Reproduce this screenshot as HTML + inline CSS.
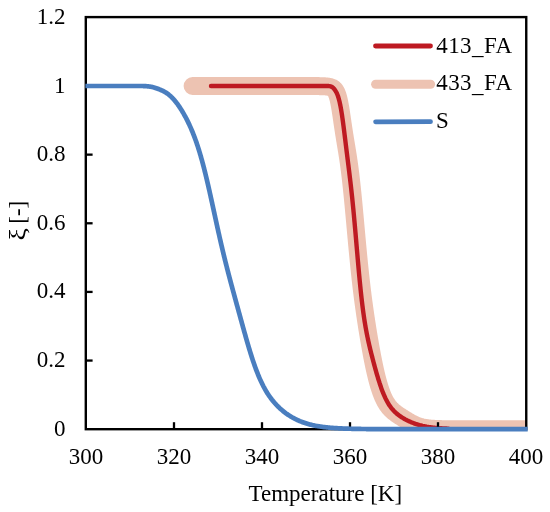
<!DOCTYPE html>
<html><head><meta charset="utf-8"><style>
html,body{margin:0;padding:0;background:#fff;}
svg{display:block;}
text{font-family:'Liberation Serif','Times New Roman',serif;font-size:23px;fill:#000;}
</style></head><body>
<svg width="550" height="512" viewBox="0 0 550 512">
<rect width="550" height="512" fill="#fff"/>
<defs><clipPath id="pa"><rect x="86" y="16.8" width="440.3" height="412.4"/></clipPath></defs>
<g clip-path="url(#pa)">
<path d="M192.60 86.00 L193.41 86.00 L194.22 86.00 L195.03 86.00 L195.84 86.00 L196.65 86.00 L197.46 86.00 L198.27 86.00 L199.08 86.00 L199.89 86.00 L200.70 86.00 L201.51 86.00 L202.32 86.00 L203.13 86.00 L203.94 86.00 L204.75 86.00 L205.56 86.00 L206.37 86.00 L207.18 86.00 L207.99 86.00 L208.80 86.00 L209.61 86.00 L210.42 86.00 L211.23 86.00 L212.04 86.00 L212.85 86.00 L213.65 86.00 L214.46 86.00 L215.27 86.00 L216.08 86.00 L216.89 86.00 L217.70 86.00 L218.51 86.00 L219.32 86.00 L220.13 86.00 L220.94 86.00 L221.75 86.00 L222.56 86.00 L223.37 86.00 L224.18 86.00 L224.99 86.00 L225.80 86.00 L226.61 86.00 L227.42 86.00 L228.23 86.00 L229.04 86.00 L229.85 86.00 L230.66 86.00 L231.47 86.00 L232.28 86.00 L233.09 86.00 L233.90 86.00 L234.71 86.00 L235.52 86.00 L236.33 86.00 L237.14 86.00 L237.95 86.00 L238.76 86.00 L239.57 86.00 L240.38 86.00 L241.19 86.00 L242.00 86.00 L242.81 86.00 L243.62 86.00 L244.43 86.00 L245.24 86.00 L246.05 86.00 L246.86 86.00 L247.67 86.00 L248.48 86.00 L249.29 86.00 L250.10 86.00 L250.91 86.00 L251.72 86.00 L252.53 86.00 L253.34 86.00 L254.14 86.00 L254.95 86.00 L255.76 86.00 L256.57 86.00 L257.38 86.00 L258.19 86.00 L259.00 86.00 L259.81 86.00 L260.62 86.00 L261.43 86.00 L262.24 86.00 L263.05 86.00 L263.86 86.00 L264.67 86.00 L265.48 86.00 L266.29 86.00 L267.10 86.00 L267.91 86.00 L268.72 86.00 L269.53 86.00 L270.34 86.00 L271.15 86.00 L271.96 86.00 L272.77 86.00 L273.58 86.00 L274.39 86.00 L275.20 86.00 L276.01 86.00 L276.82 86.00 L277.63 86.00 L278.44 86.00 L279.25 86.00 L280.06 86.00 L280.87 86.00 L281.68 86.00 L282.49 86.00 L283.30 86.00 L284.11 86.00 L284.92 86.00 L285.73 86.00 L286.54 86.00 L287.35 86.00 L288.16 86.00 L288.97 86.00 L289.78 86.00 L290.59 86.00 L291.40 86.00 L292.21 86.00 L293.02 86.00 L293.83 86.00 L294.63 86.00 L295.44 86.00 L296.25 86.00 L297.06 86.00 L297.87 86.01 L298.68 86.01 L299.49 86.01 L300.30 86.01 L301.11 86.01 L301.92 86.01 L302.73 86.01 L303.54 86.01 L304.35 86.01 L305.16 86.01 L305.97 86.02 L306.78 86.02 L307.59 86.02 L308.40 86.02 L309.21 86.03 L310.02 86.03 L310.83 86.03 L311.64 86.04 L312.45 86.04 L313.26 86.05 L314.07 86.06 L314.88 86.06 L315.69 86.07 L316.50 86.08 L317.31 86.10 L318.12 86.11 L318.93 86.12 L319.74 86.14 L320.55 86.16 L321.36 86.19 L322.17 86.21 L322.98 86.25 L323.79 86.29 L324.60 86.33 L325.41 86.39 L326.22 86.45 L327.03 86.54 L327.84 86.63 L328.63 86.75 L329.42 86.90 L330.22 87.09 L330.99 87.32 L331.75 87.61 L332.48 87.96 L333.17 88.39 L333.81 88.89 L334.40 89.46 L334.92 90.07 L335.39 90.73 L335.82 91.42 L336.20 92.15 L336.56 92.91 L336.88 93.68 L337.17 94.44 L337.44 95.22 L337.69 96.01 L337.93 96.81 L338.14 97.61 L338.35 98.38 L338.55 99.21 L338.74 100.00 L338.92 100.83 L339.09 101.62 L339.26 102.44 L339.43 103.29 L339.58 104.08 L339.73 104.90 L339.88 105.74 L340.03 106.60 L340.19 107.48 L340.32 108.29 L340.46 109.11 L340.59 109.94 L340.73 110.79 L340.86 111.65 L341.00 112.52 L341.13 113.40 L341.27 114.29 L341.40 115.19 L341.52 115.99 L341.64 116.78 L341.76 117.59 L341.87 118.39 L341.99 119.20 L342.11 120.01 L342.23 120.81 L342.35 121.62 L342.46 122.43 L342.58 123.24 L342.70 124.04 L342.82 124.85 L342.94 125.65 L343.05 126.44 L343.17 127.24 L343.31 128.14 L343.44 129.03 L343.58 129.92 L343.71 130.80 L343.85 131.68 L343.98 132.55 L344.12 133.42 L344.25 134.27 L344.39 135.12 L344.52 135.97 L344.66 136.81 L344.79 137.64 L344.93 138.47 L345.06 139.30 L345.20 140.12 L345.33 140.94 L345.47 141.75 L345.60 142.57 L345.74 143.38 L345.87 144.19 L346.01 145.00 L346.14 145.81 L346.28 146.62 L346.41 147.43 L346.55 148.25 L346.68 149.07 L346.82 149.89 L346.95 150.72 L347.09 151.56 L347.22 152.40 L347.36 153.24 L347.49 154.09 L347.63 154.95 L347.76 155.82 L347.90 156.70 L348.03 157.59 L348.17 158.49 L348.28 159.28 L348.40 160.08 L348.52 160.89 L348.64 161.71 L348.76 162.54 L348.87 163.38 L348.99 164.23 L349.11 165.09 L349.23 165.95 L349.35 166.83 L349.47 167.72 L349.58 168.62 L349.70 169.53 L349.82 170.45 L349.92 171.25 L350.02 172.06 L350.12 172.88 L350.22 173.70 L350.33 174.53 L350.43 175.37 L350.53 176.22 L350.63 177.08 L350.73 177.94 L350.83 178.82 L350.93 179.70 L351.03 180.59 L351.14 181.49 L351.24 182.40 L351.34 183.31 L351.44 184.24 L351.54 185.17 L351.64 186.11 L351.74 187.06 L351.83 187.86 L351.91 188.66 L352.00 189.46 L352.08 190.28 L352.16 191.09 L352.25 191.92 L352.33 192.74 L352.42 193.58 L352.50 194.41 L352.59 195.26 L352.67 196.10 L352.75 196.95 L352.84 197.81 L352.92 198.67 L353.01 199.53 L353.09 200.40 L353.18 201.27 L353.26 202.15 L353.35 203.03 L353.43 203.92 L353.51 204.80 L353.60 205.69 L353.68 206.59 L353.77 207.49 L353.85 208.39 L353.94 209.29 L354.02 210.20 L354.10 211.10 L354.19 212.02 L354.27 212.93 L354.36 213.85 L354.44 214.76 L354.53 215.68 L354.61 216.61 L354.70 217.53 L354.78 218.45 L354.86 219.38 L354.95 220.31 L355.03 221.23 L355.12 222.16 L355.20 223.09 L355.29 224.02 L355.37 224.96 L355.45 225.89 L355.54 226.82 L355.62 227.75 L355.71 228.68 L355.79 229.61 L355.88 230.54 L355.96 231.47 L356.04 232.40 L356.13 233.33 L356.21 234.26 L356.30 235.19 L356.38 236.11 L356.47 237.03 L356.55 237.96 L356.64 238.88 L356.72 239.80 L356.80 240.71 L356.89 241.63 L356.97 242.54 L357.06 243.45 L357.14 244.36 L357.23 245.27 L357.31 246.17 L357.39 247.08 L357.48 247.97 L357.56 248.87 L357.65 249.76 L357.73 250.65 L357.82 251.54 L357.90 252.42 L357.98 253.30 L358.07 254.18 L358.15 255.06 L358.24 255.93 L358.32 256.79 L358.41 257.66 L358.49 258.52 L358.58 259.37 L358.66 260.23 L358.74 261.07 L358.83 261.92 L358.91 262.76 L359.00 263.60 L359.08 264.43 L359.17 265.26 L359.25 266.08 L359.33 266.90 L359.42 267.72 L359.50 268.53 L359.59 269.34 L359.67 270.15 L359.76 270.95 L359.84 271.74 L359.94 272.69 L360.04 273.64 L360.14 274.58 L360.25 275.51 L360.35 276.43 L360.45 277.35 L360.55 278.27 L360.65 279.18 L360.75 280.08 L360.85 280.97 L360.95 281.86 L361.06 282.75 L361.16 283.63 L361.26 284.50 L361.36 285.36 L361.46 286.23 L361.56 287.08 L361.66 287.93 L361.76 288.77 L361.87 289.61 L361.97 290.45 L362.07 291.27 L362.17 292.10 L362.27 292.91 L362.37 293.72 L362.47 294.53 L362.57 295.33 L362.67 296.13 L362.79 297.05 L362.91 297.97 L363.03 298.88 L363.15 299.78 L363.27 300.68 L363.38 301.57 L363.50 302.45 L363.62 303.33 L363.74 304.21 L363.86 305.07 L363.97 305.94 L364.09 306.79 L364.21 307.64 L364.33 308.49 L364.45 309.33 L364.56 310.16 L364.68 310.99 L364.80 311.82 L364.92 312.64 L365.04 313.45 L365.15 314.27 L365.27 315.07 L365.39 315.87 L365.51 316.67 L365.63 317.47 L365.76 318.37 L365.90 319.26 L366.03 320.16 L366.17 321.04 L366.30 321.92 L366.44 322.80 L366.57 323.67 L366.71 324.54 L366.84 325.40 L366.98 326.26 L367.11 327.11 L367.25 327.96 L367.38 328.81 L367.52 329.65 L367.65 330.48 L367.79 331.32 L367.92 332.15 L368.06 332.97 L368.19 333.79 L368.33 334.61 L368.46 335.42 L368.60 336.23 L368.73 337.03 L368.87 337.83 L369.00 338.63 L369.14 339.42 L369.27 340.21 L369.42 341.09 L369.58 341.97 L369.73 342.85 L369.88 343.71 L370.03 344.58 L370.18 345.44 L370.33 346.29 L370.49 347.14 L370.64 347.99 L370.79 348.82 L370.94 349.66 L371.09 350.49 L371.25 351.31 L371.40 352.13 L371.55 352.94 L371.70 353.75 L371.85 354.56 L372.00 355.35 L372.16 356.15 L372.31 356.93 L372.48 357.80 L372.65 358.66 L372.81 359.52 L372.98 360.36 L373.15 361.20 L373.32 362.04 L373.49 362.86 L373.66 363.68 L373.83 364.49 L374.00 365.30 L374.16 366.09 L374.33 366.88 L374.52 367.74 L374.70 368.59 L374.89 369.43 L375.08 370.26 L375.26 371.08 L375.45 371.90 L375.63 372.70 L375.82 373.49 L376.00 374.27 L376.21 375.12 L376.41 375.95 L376.61 376.77 L376.81 377.57 L377.02 378.37 L377.22 379.15 L377.44 379.99 L377.66 380.81 L377.88 381.62 L378.09 382.41 L378.31 383.19 L378.55 384.02 L378.79 384.83 L379.02 385.62 L379.26 386.40 L379.51 387.21 L379.77 388.01 L380.02 388.79 L380.27 389.56 L380.54 390.35 L380.81 391.12 L381.08 391.88 L381.37 392.66 L381.65 393.42 L381.96 394.21 L382.26 394.97 L382.58 395.74 L382.90 396.50 L383.24 397.27 L383.58 398.01 L383.93 398.76 L384.29 399.49 L384.66 400.22 L385.05 400.95 L385.43 401.66 L385.84 402.37 L386.26 403.07 L386.70 403.78 L387.14 404.45 L387.59 405.11 L388.07 405.77 L388.55 406.42 L389.06 407.06 L389.58 407.69 L390.12 408.30 L390.68 408.91 L391.25 409.50 L391.83 410.06 L392.42 410.61 L393.03 411.15 L393.65 411.69 L394.27 412.20 L394.92 412.70 L395.56 413.19 L396.21 413.67 L396.87 414.14 L397.53 414.60 L398.20 415.06 L398.88 415.51 L399.55 415.95 L400.23 416.39 L400.90 416.83 L401.58 417.26 L402.25 417.69 L402.95 418.13 L403.64 418.57 L404.33 419.01 L405.02 419.44 L405.71 419.87 L406.40 420.29 L407.10 420.72 L407.79 421.13 L408.48 421.54 L409.17 421.95 L409.88 422.35 L410.59 422.75 L411.30 423.13 L412.01 423.51 L412.73 423.88 L413.46 424.23 L414.18 424.57 L414.92 424.91 L415.67 425.22 L416.41 425.52 L417.17 425.81 L417.93 426.09 L418.69 426.35 L419.46 426.59 L420.24 426.82 L421.01 427.03 L421.79 427.23 L422.58 427.41 L423.38 427.58 L424.17 427.74 L424.96 427.88 L425.76 428.02 L426.55 428.14 L427.34 428.25 L428.15 428.35 L428.96 428.44 L429.77 428.52 L430.58 428.60 L431.39 428.67 L432.20 428.73 L433.01 428.79 L433.82 428.84 L434.63 428.88 L435.44 428.93 L436.25 428.96 L437.06 429.00 L437.87 429.03 L438.68 429.05 L439.49 429.08 L440.30 429.10 L441.11 429.12 L441.92 429.14 L442.73 429.15 L443.54 429.17 L444.35 429.18 L445.16 429.19 L445.97 429.20 L446.78 429.21 L447.59 429.22 L448.40 429.23 L449.21 429.23 L450.02 429.24 L450.83 429.25 L451.63 429.25 L452.44 429.26 L453.25 429.26 L454.06 429.26 L454.87 429.27 L455.68 429.27 L456.49 429.27 L457.30 429.27 L458.11 429.28 L458.92 429.28 L459.73 429.28 L460.54 429.28 L461.35 429.28 L462.16 429.28 L462.97 429.28 L463.78 429.29 L464.59 429.29 L465.40 429.29 L466.21 429.29 L467.02 429.29 L467.83 429.29 L468.64 429.29 L469.45 429.29 L470.26 429.29 L471.07 429.29 L471.88 429.29 L472.69 429.29 L473.50 429.29 L474.31 429.29 L475.12 429.29 L475.93 429.29 L476.74 429.29 L477.55 429.29 L478.36 429.29 L479.17 429.29 L479.98 429.29 L480.79 429.29 L481.60 429.29 L482.41 429.29 L483.22 429.29 L484.03 429.29 L484.84 429.29 L485.65 429.29 L486.46 429.29 L487.27 429.29 L488.08 429.29 L488.89 429.29 L489.70 429.29 L490.51 429.29 L491.32 429.29 L492.12 429.29 L492.93 429.29 L493.74 429.29 L494.55 429.29 L495.36 429.29 L496.17 429.29 L496.98 429.29 L497.79 429.29 L498.60 429.29 L499.41 429.29 L500.22 429.29 L501.03 429.29 L501.84 429.29 L502.65 429.29 L503.46 429.29 L504.27 429.29 L505.08 429.29 L505.89 429.29 L506.70 429.29 L507.51 429.29 L508.32 429.29 L509.13 429.29 L509.94 429.29 L510.75 429.29 L511.56 429.29 L512.37 429.29 L513.18 429.29 L513.99 429.29 L514.80 429.29 L515.61 429.29 L516.42 429.29 L517.23 429.29 L518.04 429.29 L518.85 429.29 L519.66 429.29 L520.47 429.29 L521.28 429.29 L522.09 429.29 L522.90 429.29 L523.71 429.29 L524.52 429.29 L525.33 429.29 L526.14 429.29 L526.95 429.29 L527.76 429.29 L528.57 429.29 L529.38 429.29 L530.00 429.29" fill="none" stroke="#EDC3B2" stroke-width="18" stroke-linecap="round" stroke-linejoin="round"/>
<path d="M211.00 86.00 L211.81 86.00 L212.61 86.00 L213.42 86.00 L214.23 86.00 L215.04 86.00 L215.84 86.00 L216.65 86.00 L217.46 86.00 L218.26 86.00 L219.07 86.00 L219.88 86.00 L220.69 86.00 L221.49 86.00 L222.30 86.00 L223.11 86.00 L223.92 86.00 L224.72 86.00 L225.53 86.00 L226.34 86.00 L227.14 86.00 L227.95 86.00 L228.76 86.00 L229.57 86.00 L230.37 86.00 L231.18 86.00 L231.99 86.00 L232.79 86.00 L233.60 86.00 L234.41 86.00 L235.22 86.00 L236.02 86.00 L236.83 86.00 L237.64 86.00 L238.44 86.00 L239.25 86.00 L240.06 86.00 L240.87 86.00 L241.67 86.00 L242.48 86.00 L243.29 86.00 L244.10 86.00 L244.90 86.00 L245.71 86.00 L246.52 86.00 L247.32 86.00 L248.13 86.00 L248.94 86.00 L249.75 86.00 L250.55 86.00 L251.36 86.00 L252.17 86.00 L252.97 86.00 L253.78 86.00 L254.59 86.00 L255.40 86.00 L256.20 86.00 L257.01 86.00 L257.82 86.00 L258.62 86.00 L259.43 86.00 L260.24 86.00 L261.05 86.00 L261.85 86.00 L262.66 86.00 L263.47 86.00 L264.28 86.00 L265.08 86.00 L265.89 86.00 L266.70 86.00 L267.50 86.00 L268.31 86.00 L269.12 86.00 L269.93 86.00 L270.73 86.00 L271.54 86.00 L272.35 86.00 L273.15 86.00 L273.96 86.00 L274.77 86.00 L275.58 86.00 L276.38 86.00 L277.19 86.00 L278.00 86.00 L278.80 86.00 L279.61 86.00 L280.42 86.00 L281.23 86.00 L282.03 86.00 L282.84 86.00 L283.65 86.00 L284.46 86.00 L285.26 86.00 L286.07 86.00 L286.88 86.00 L287.68 86.00 L288.49 86.00 L289.30 86.00 L290.11 86.00 L290.91 86.00 L291.72 86.00 L292.53 86.00 L293.33 86.00 L294.14 86.00 L294.95 86.00 L295.76 86.00 L296.56 86.00 L297.37 86.00 L298.18 86.00 L298.98 86.00 L299.79 86.00 L300.60 86.00 L301.41 86.00 L302.21 86.00 L303.02 86.00 L303.83 86.00 L304.64 86.00 L305.44 86.00 L306.25 86.00 L307.06 86.00 L307.86 86.00 L308.67 86.00 L309.48 86.00 L310.29 86.00 L311.09 86.00 L311.90 86.00 L312.71 86.00 L313.51 86.00 L314.32 86.00 L315.13 86.00 L315.94 86.00 L316.74 86.00 L317.55 86.00 L318.36 86.00 L319.16 86.00 L319.97 86.00 L320.78 86.00 L321.59 86.00 L322.39 86.00 L323.20 86.00 L324.01 86.00 L324.82 86.00 L325.62 86.00 L326.43 86.00 L327.24 86.00 L328.04 86.02 L328.85 86.07 L329.65 86.17 L330.43 86.34 L331.19 86.60 L331.91 86.94 L332.59 87.38 L333.21 87.89 L333.78 88.47 L334.30 89.09 L334.77 89.74 L335.23 90.41 L335.65 91.09 L336.07 91.78 L336.46 92.50 L336.82 93.23 L337.15 93.97 L337.46 94.73 L337.74 95.49 L338.02 96.27 L338.26 97.03 L338.50 97.80 L338.73 98.58 L338.94 99.36 L339.15 100.18 L339.36 100.99 L339.55 101.79 L339.74 102.62 L339.91 103.43 L340.08 104.22 L340.25 105.03 L340.41 105.87 L340.57 106.67 L340.72 107.50 L340.88 108.35 L341.02 109.16 L341.16 109.98 L341.30 110.83 L341.43 111.62 L341.56 112.43 L341.70 113.25 L341.83 114.09 L341.96 114.94 L342.09 115.81 L342.21 116.61 L342.32 117.43 L342.44 118.25 L342.56 119.09 L342.68 119.93 L342.80 120.79 L342.92 121.66 L343.04 122.53 L343.14 123.33 L343.25 124.13 L343.36 124.94 L343.46 125.75 L343.57 126.57 L343.68 127.40 L343.78 128.23 L343.89 129.07 L344.00 129.91 L344.10 130.75 L344.21 131.60 L344.32 132.45 L344.43 133.31 L344.53 134.17 L344.64 135.03 L344.75 135.89 L344.85 136.75 L344.96 137.62 L345.07 138.49 L345.17 139.35 L345.28 140.22 L345.39 141.09 L345.49 141.96 L345.60 142.83 L345.71 143.70 L345.81 144.57 L345.92 145.44 L346.03 146.31 L346.13 147.18 L346.24 148.05 L346.35 148.91 L346.46 149.78 L346.56 150.64 L346.67 151.51 L346.78 152.37 L346.88 153.23 L346.99 154.09 L347.10 154.95 L347.20 155.81 L347.31 156.67 L347.42 157.53 L347.52 158.38 L347.63 159.24 L347.74 160.09 L347.84 160.95 L347.95 161.80 L348.06 162.66 L348.16 163.52 L348.27 164.37 L348.38 165.23 L348.49 166.08 L348.59 166.94 L348.70 167.80 L348.81 168.66 L348.91 169.53 L349.02 170.39 L349.13 171.26 L349.23 172.12 L349.34 173.00 L349.45 173.87 L349.55 174.75 L349.66 175.63 L349.77 176.51 L349.87 177.40 L349.98 178.29 L350.08 179.09 L350.17 179.88 L350.27 180.69 L350.36 181.49 L350.46 182.31 L350.55 183.12 L350.65 183.94 L350.74 184.76 L350.84 185.59 L350.93 186.43 L351.03 187.26 L351.12 188.11 L351.22 188.95 L351.31 189.81 L351.41 190.66 L351.50 191.53 L351.60 192.40 L351.69 193.27 L351.79 194.15 L351.88 195.04 L351.98 195.93 L352.07 196.83 L352.17 197.73 L352.25 198.53 L352.33 199.33 L352.41 200.13 L352.50 200.94 L352.58 201.76 L352.66 202.58 L352.75 203.40 L352.83 204.23 L352.91 205.06 L353.00 205.90 L353.08 206.74 L353.16 207.59 L353.25 208.44 L353.33 209.29 L353.41 210.16 L353.49 211.02 L353.58 211.89 L353.66 212.76 L353.74 213.64 L353.83 214.52 L353.91 215.41 L353.99 216.30 L354.08 217.20 L354.16 218.10 L354.24 219.00 L354.33 219.91 L354.41 220.82 L354.49 221.73 L354.57 222.65 L354.66 223.57 L354.74 224.50 L354.82 225.42 L354.90 226.22 L354.97 227.02 L355.04 227.82 L355.11 228.63 L355.18 229.43 L355.25 230.24 L355.32 231.05 L355.39 231.86 L355.47 232.68 L355.54 233.49 L355.61 234.31 L355.68 235.13 L355.75 235.95 L355.82 236.77 L355.89 237.59 L355.96 238.41 L356.03 239.24 L356.11 240.06 L356.18 240.88 L356.25 241.71 L356.32 242.54 L356.39 243.36 L356.46 244.19 L356.53 245.02 L356.60 245.84 L356.68 246.67 L356.75 247.50 L356.82 248.33 L356.89 249.15 L356.96 249.98 L357.03 250.80 L357.10 251.63 L357.17 252.45 L357.25 253.28 L357.32 254.10 L357.39 254.92 L357.46 255.74 L357.53 256.56 L357.60 257.38 L357.67 258.20 L357.74 259.01 L357.82 259.82 L357.89 260.64 L357.96 261.44 L358.03 262.25 L358.10 263.06 L358.17 263.86 L358.24 264.66 L358.31 265.46 L358.39 266.26 L358.47 267.19 L358.55 268.11 L358.63 269.03 L358.72 269.95 L358.80 270.86 L358.88 271.77 L358.97 272.67 L359.05 273.57 L359.13 274.46 L359.22 275.35 L359.30 276.24 L359.38 277.12 L359.47 278.00 L359.55 278.87 L359.63 279.74 L359.71 280.60 L359.80 281.46 L359.88 282.31 L359.96 283.15 L360.05 284.00 L360.13 284.83 L360.21 285.66 L360.30 286.49 L360.38 287.30 L360.46 288.12 L360.55 288.92 L360.63 289.73 L360.72 290.63 L360.82 291.54 L360.91 292.43 L361.01 293.31 L361.10 294.19 L361.20 295.06 L361.29 295.92 L361.39 296.78 L361.48 297.63 L361.58 298.46 L361.67 299.29 L361.77 300.12 L361.86 300.93 L361.96 301.74 L362.05 302.54 L362.16 303.42 L362.27 304.30 L362.37 305.17 L362.48 306.03 L362.59 306.88 L362.69 307.72 L362.80 308.55 L362.91 309.37 L363.01 310.18 L363.12 310.98 L363.24 311.86 L363.36 312.73 L363.48 313.59 L363.60 314.43 L363.72 315.27 L363.83 316.09 L363.95 316.90 L364.07 317.70 L364.19 318.50 L364.32 319.36 L364.45 320.20 L364.58 321.04 L364.71 321.86 L364.84 322.67 L364.97 323.47 L365.10 324.26 L365.25 325.11 L365.39 325.95 L365.53 326.78 L365.67 327.59 L365.82 328.39 L365.96 329.18 L366.11 330.03 L366.27 330.86 L366.42 331.68 L366.58 332.49 L366.73 333.29 L366.88 334.08 L367.05 334.92 L367.22 335.75 L367.38 336.56 L367.55 337.37 L367.72 338.16 L367.88 338.95 L368.06 339.78 L368.24 340.60 L368.42 341.41 L368.59 342.21 L368.77 343.01 L368.95 343.79 L369.14 344.62 L369.33 345.45 L369.52 346.26 L369.71 347.07 L369.90 347.87 L370.09 348.66 L370.28 349.44 L370.47 350.23 L370.67 351.05 L370.87 351.87 L371.07 352.68 L371.28 353.48 L371.48 354.28 L371.68 355.08 L371.88 355.87 L372.08 356.66 L372.29 357.44 L372.49 358.22 L372.69 359.00 L372.90 359.81 L373.12 360.63 L373.33 361.44 L373.54 362.24 L373.76 363.04 L373.97 363.84 L374.19 364.63 L374.40 365.42 L374.61 366.20 L374.83 366.98 L375.04 367.76 L375.25 368.53 L375.48 369.34 L375.70 370.15 L375.93 370.95 L376.16 371.75 L376.38 372.54 L376.61 373.32 L376.83 374.10 L377.06 374.87 L377.28 375.64 L377.52 376.44 L377.76 377.24 L378.00 378.03 L378.23 378.81 L378.47 379.58 L378.71 380.34 L378.96 381.14 L379.21 381.92 L379.46 382.70 L379.70 383.47 L379.97 384.26 L380.23 385.04 L380.49 385.81 L380.75 386.57 L381.02 387.36 L381.30 388.13 L381.57 388.88 L381.85 389.66 L382.14 390.42 L382.42 391.17 L382.72 391.94 L383.02 392.69 L383.33 393.45 L383.63 394.20 L383.95 394.96 L384.28 395.70 L384.61 396.45 L384.94 397.18 L385.28 397.92 L385.64 398.66 L386.00 399.38 L386.36 400.10 L386.74 400.82 L387.14 401.55 L387.53 402.25 L387.93 402.94 L388.35 403.64 L388.77 404.32 L389.21 405.01 L389.66 405.68 L390.13 406.35 L390.60 407.00 L391.09 407.65 L391.59 408.28 L392.10 408.91 L392.62 409.52 L393.15 410.12 L393.70 410.71 L394.26 411.29 L394.83 411.85 L395.41 412.41 L396.00 412.95 L396.61 413.48 L397.23 414.00 L397.86 414.51 L398.50 415.01 L399.14 415.49 L399.79 415.96 L400.45 416.42 L401.12 416.87 L401.80 417.31 L402.48 417.74 L403.17 418.16 L403.87 418.58 L404.57 418.98 L405.27 419.37 L405.99 419.75 L406.70 420.12 L407.42 420.49 L408.15 420.84 L408.87 421.19 L409.61 421.53 L410.34 421.85 L411.08 422.17 L411.83 422.48 L412.57 422.78 L413.32 423.07 L414.08 423.36 L414.84 423.63 L415.60 423.90 L416.36 424.15 L417.13 424.40 L417.90 424.64 L418.68 424.87 L419.45 425.08 L420.23 425.30 L421.01 425.50 L421.80 425.69 L422.58 425.88 L423.36 426.05 L424.15 426.22 L424.94 426.38 L425.74 426.53 L426.53 426.68 L427.33 426.81 L428.13 426.94 L428.92 427.07 L429.72 427.18 L430.51 427.29 L431.31 427.40 L432.10 427.50 L432.90 427.59 L433.69 427.68 L434.50 427.76 L435.31 427.84 L436.11 427.91 L436.92 427.98 L437.73 428.05 L438.54 428.11 L439.34 428.17 L440.15 428.22 L440.96 428.27 L441.76 428.32 L442.57 428.36 L443.38 428.41 L444.19 428.45 L444.99 428.48 L445.80 428.52 L446.61 428.55 L447.41 428.58 L448.22 428.61 L448.40 428.61" fill="none" stroke="#BE1A22" stroke-width="4.4" stroke-linecap="round" stroke-linejoin="round"/>
</g>
<g stroke="#000" stroke-width="2.3" fill="none">
<rect x="85.8" y="17.1" width="440.45" height="412.1" stroke-width="2.4"/>
<line x1="86" y1="360.56" x2="92.6" y2="360.56"/><line x1="86" y1="291.92" x2="92.6" y2="291.92"/><line x1="86" y1="223.28" x2="92.6" y2="223.28"/><line x1="86" y1="154.64" x2="92.6" y2="154.64"/><line x1="86" y1="86.00" x2="92.6" y2="86.00"/>
<line x1="174.00" y1="429.2" x2="174.00" y2="422.2"/><line x1="262.00" y1="429.2" x2="262.00" y2="422.2"/><line x1="350.00" y1="429.2" x2="350.00" y2="422.2"/><line x1="438.00" y1="429.2" x2="438.00" y2="422.2"/>
</g>
<path d="M85.40 86.00 L86.22 86.00 L87.04 86.00 L87.85 86.00 L88.67 86.00 L89.49 86.00 L90.31 86.00 L91.13 86.00 L91.95 86.00 L92.76 86.00 L93.58 86.00 L94.40 86.00 L95.22 86.00 L96.04 86.00 L96.86 86.00 L97.67 86.00 L98.49 86.00 L99.31 86.00 L100.13 86.00 L100.95 86.00 L101.77 86.00 L102.58 86.00 L103.40 86.00 L104.22 86.00 L105.04 86.00 L105.86 86.00 L106.68 86.00 L107.49 86.00 L108.31 86.00 L109.13 86.00 L109.95 86.00 L110.77 86.00 L111.59 86.00 L112.40 86.00 L113.22 86.00 L114.04 86.00 L114.86 86.00 L115.68 86.00 L116.50 86.00 L117.31 86.00 L118.13 86.00 L118.95 86.00 L119.77 86.00 L120.59 86.00 L121.41 86.00 L122.22 86.00 L123.04 86.00 L123.86 86.00 L124.68 86.00 L125.50 86.00 L126.31 86.00 L127.13 86.00 L127.95 86.00 L128.77 86.00 L129.59 86.00 L130.41 86.00 L131.22 86.00 L132.04 86.00 L132.86 86.00 L133.68 86.00 L134.50 86.00 L135.32 86.00 L136.13 86.00 L136.95 86.00 L137.77 86.00 L138.59 86.00 L139.41 86.00 L140.23 86.00 L141.04 86.00 L141.86 86.01 L142.68 86.02 L143.50 86.05 L144.32 86.07 L145.14 86.11 L145.95 86.16 L146.77 86.22 L147.59 86.30 L148.39 86.38 L149.18 86.48 L149.98 86.60 L150.78 86.73 L151.57 86.88 L152.37 87.05 L153.16 87.24 L153.94 87.45 L154.71 87.67 L155.49 87.92 L156.26 88.18 L157.03 88.46 L157.79 88.75 L158.54 89.05 L159.29 89.36 L160.04 89.67 L160.79 89.97 L161.55 90.29 L162.28 90.62 L163.01 90.97 L163.74 91.34 L164.44 91.73 L165.15 92.14 L165.84 92.56 L166.52 93.01 L167.19 93.47 L167.85 93.95 L168.49 94.44 L169.13 94.96 L169.75 95.48 L170.37 96.03 L170.97 96.58 L171.56 97.15 L172.14 97.72 L172.71 98.32 L173.27 98.91 L173.82 99.52 L174.35 100.13 L174.88 100.75 L175.41 101.40 L175.92 102.03 L176.43 102.68 L176.92 103.32 L177.40 103.98 L177.89 104.64 L178.35 105.30 L178.82 105.96 L179.28 106.65 L179.75 107.34 L180.19 108.01 L180.63 108.70 L181.07 109.40 L181.52 110.10 L181.94 110.79 L182.36 111.49 L182.78 112.19 L183.20 112.91 L183.62 113.64 L184.02 114.34 L184.41 115.05 L184.81 115.77 L185.21 116.50 L185.61 117.25 L185.98 117.96 L186.36 118.68 L186.74 119.41 L187.11 120.14 L187.49 120.89 L187.86 121.65 L188.22 122.38 L188.57 123.11 L188.93 123.86 L189.28 124.61 L189.63 125.38 L189.99 126.15 L190.32 126.89 L190.65 127.64 L190.98 128.39 L191.31 129.16 L191.65 129.94 L191.98 130.73 L192.29 131.47 L192.60 132.23 L192.91 132.99 L193.22 133.77 L193.53 134.55 L193.84 135.35 L194.12 136.09 L194.41 136.85 L194.70 137.62 L194.99 138.40 L195.27 139.18 L195.56 139.98 L195.85 140.78 L196.14 141.60 L196.40 142.36 L196.67 143.14 L196.93 143.92 L197.20 144.71 L197.46 145.50 L197.73 146.31 L197.99 147.13 L198.26 147.96 L198.50 148.72 L198.75 149.50 L198.99 150.28 L199.23 151.07 L199.47 151.86 L199.72 152.67 L199.96 153.48 L200.20 154.31 L200.45 155.14 L200.69 155.97 L200.91 156.74 L201.13 157.52 L201.35 158.30 L201.58 159.09 L201.80 159.88 L202.02 160.69 L202.24 161.50 L202.46 162.31 L202.68 163.13 L202.90 163.96 L203.12 164.79 L203.35 165.64 L203.57 166.48 L203.79 167.34 L204.01 168.20 L204.21 168.97 L204.41 169.76 L204.61 170.55 L204.80 171.34 L205.00 172.14 L205.20 172.94 L205.40 173.75 L205.60 174.56 L205.80 175.38 L206.00 176.20 L206.20 177.03 L206.40 177.86 L206.60 178.69 L206.80 179.53 L206.99 180.37 L207.19 181.21 L207.39 182.06 L207.59 182.92 L207.79 183.78 L207.99 184.64 L208.19 185.50 L208.39 186.37 L208.59 187.24 L208.79 188.11 L208.98 188.99 L209.16 189.77 L209.34 190.56 L209.52 191.34 L209.69 192.13 L209.87 192.92 L210.05 193.71 L210.22 194.51 L210.40 195.30 L210.58 196.10 L210.75 196.90 L210.93 197.70 L211.11 198.51 L211.28 199.31 L211.46 200.11 L211.64 200.92 L211.82 201.73 L211.99 202.54 L212.17 203.35 L212.35 204.16 L212.52 204.97 L212.70 205.78 L212.88 206.59 L213.05 207.40 L213.23 208.22 L213.41 209.03 L213.58 209.84 L213.76 210.66 L213.94 211.47 L214.12 212.29 L214.29 213.10 L214.47 213.92 L214.65 214.73 L214.82 215.54 L215.00 216.36 L215.18 217.17 L215.35 217.98 L215.53 218.79 L215.71 219.60 L215.89 220.41 L216.06 221.22 L216.24 222.03 L216.42 222.84 L216.59 223.65 L216.77 224.45 L216.95 225.26 L217.12 226.06 L217.30 226.86 L217.48 227.67 L217.65 228.46 L217.83 229.26 L218.01 230.06 L218.19 230.86 L218.36 231.65 L218.54 232.44 L218.72 233.23 L218.89 234.02 L219.07 234.81 L219.25 235.59 L219.42 236.38 L219.60 237.16 L219.80 238.03 L220.00 238.91 L220.20 239.78 L220.40 240.65 L220.60 241.52 L220.79 242.38 L220.99 243.24 L221.19 244.10 L221.39 244.96 L221.59 245.81 L221.79 246.66 L221.99 247.51 L222.19 248.36 L222.39 249.20 L222.59 250.04 L222.79 250.88 L222.98 251.71 L223.18 252.54 L223.38 253.37 L223.58 254.20 L223.78 255.02 L223.98 255.84 L224.18 256.66 L224.38 257.47 L224.58 258.28 L224.78 259.09 L224.97 259.90 L225.17 260.70 L225.37 261.50 L225.57 262.30 L225.77 263.10 L225.97 263.89 L226.17 264.68 L226.37 265.47 L226.57 266.25 L226.77 267.04 L226.97 267.82 L227.16 268.60 L227.36 269.37 L227.58 270.23 L227.81 271.09 L228.03 271.95 L228.25 272.80 L228.47 273.65 L228.69 274.50 L228.91 275.34 L229.13 276.18 L229.35 277.02 L229.57 277.86 L229.80 278.70 L230.02 279.53 L230.24 280.37 L230.46 281.20 L230.68 282.03 L230.90 282.85 L231.12 283.68 L231.34 284.50 L231.57 285.33 L231.79 286.15 L232.01 286.97 L232.23 287.79 L232.45 288.60 L232.67 289.42 L232.89 290.24 L233.11 291.05 L233.33 291.87 L233.56 292.68 L233.78 293.49 L234.00 294.30 L234.22 295.11 L234.44 295.93 L234.66 296.74 L234.88 297.54 L235.10 298.35 L235.33 299.16 L235.55 299.97 L235.77 300.78 L235.99 301.59 L236.21 302.39 L236.43 303.20 L236.65 304.01 L236.87 304.82 L237.09 305.62 L237.32 306.43 L237.54 307.24 L237.76 308.04 L237.98 308.85 L238.20 309.66 L238.42 310.46 L238.64 311.27 L238.86 312.07 L239.08 312.88 L239.31 313.69 L239.53 314.49 L239.75 315.30 L239.97 316.10 L240.19 316.91 L240.41 317.71 L240.63 318.52 L240.85 319.32 L241.08 320.12 L241.30 320.93 L241.52 321.73 L241.74 322.53 L241.96 323.33 L242.18 324.13 L242.40 324.93 L242.62 325.73 L242.84 326.53 L243.07 327.33 L243.29 328.12 L243.51 328.92 L243.73 329.71 L243.95 330.51 L244.17 331.30 L244.39 332.09 L244.61 332.88 L244.84 333.66 L245.06 334.45 L245.28 335.23 L245.50 336.01 L245.72 336.79 L245.94 337.57 L246.16 338.35 L246.38 339.12 L246.60 339.89 L246.85 340.74 L247.09 341.58 L247.33 342.42 L247.58 343.25 L247.82 344.08 L248.06 344.91 L248.31 345.74 L248.55 346.56 L248.79 347.38 L249.04 348.19 L249.28 349.00 L249.52 349.80 L249.77 350.60 L250.01 351.40 L250.25 352.19 L250.50 352.97 L250.74 353.76 L250.98 354.53 L251.23 355.30 L251.47 356.07 L251.74 356.90 L252.00 357.72 L252.27 358.54 L252.53 359.35 L252.80 360.15 L253.06 360.95 L253.33 361.74 L253.59 362.52 L253.86 363.29 L254.12 364.06 L254.39 364.82 L254.68 365.64 L254.96 366.45 L255.25 367.25 L255.54 368.04 L255.83 368.82 L256.11 369.59 L256.40 370.36 L256.69 371.11 L257.00 371.91 L257.31 372.71 L257.62 373.49 L257.93 374.26 L258.24 375.02 L258.55 375.77 L258.86 376.52 L259.19 377.30 L259.52 378.07 L259.85 378.83 L260.18 379.58 L260.52 380.31 L260.87 381.09 L261.22 381.85 L261.58 382.59 L261.93 383.33 L262.28 384.05 L262.66 384.81 L263.04 385.55 L263.41 386.28 L263.79 386.99 L264.19 387.73 L264.58 388.46 L264.98 389.17 L265.38 389.87 L265.80 390.60 L266.22 391.31 L266.64 392.00 L267.06 392.69 L267.50 393.39 L267.95 394.08 L268.39 394.75 L268.85 395.44 L269.32 396.12 L269.78 396.78 L270.27 397.46 L270.76 398.12 L271.24 398.77 L271.75 399.44 L272.26 400.08 L272.77 400.72 L273.28 401.34 L273.81 401.97 L274.34 402.59 L274.87 403.19 L275.42 403.81 L275.97 404.41 L276.53 405.00 L277.10 405.59 L277.68 406.18 L278.25 406.75 L278.83 407.30 L279.42 407.87 L280.02 408.42 L280.62 408.96 L281.24 409.51 L281.86 410.04 L282.48 410.56 L283.10 411.07 L283.74 411.59 L284.38 412.09 L285.02 412.58 L285.66 413.06 L286.32 413.55 L286.99 414.02 L287.65 414.48 L288.32 414.93 L289.00 415.38 L289.69 415.82 L290.37 416.25 L291.06 416.67 L291.77 417.09 L292.47 417.50 L293.18 417.89 L293.89 418.28 L294.60 418.65 L295.33 419.03 L296.06 419.39 L296.79 419.75 L297.52 420.09 L298.25 420.42 L299.00 420.75 L299.75 421.08 L300.50 421.39 L301.25 421.69 L302.01 421.98 L302.76 422.26 L303.53 422.54 L304.31 422.81 L305.08 423.07 L305.85 423.32 L306.63 423.56 L307.40 423.79 L308.18 424.01 L308.95 424.23 L309.72 424.44 L310.52 424.64 L311.32 424.84 L312.11 425.03 L312.91 425.21 L313.70 425.38 L314.50 425.55 L315.30 425.71 L316.09 425.87 L316.89 426.01 L317.69 426.15 L318.48 426.29 L319.28 426.42 L320.07 426.54 L320.87 426.66 L321.67 426.78 L322.46 426.89 L323.26 426.99 L324.05 427.09 L324.85 427.19 L325.65 427.28 L326.44 427.37 L327.24 427.45 L328.04 427.53 L328.85 427.61 L329.67 427.68 L330.49 427.75 L331.31 427.82 L332.13 427.89 L332.95 427.95 L333.76 428.01 L334.58 428.07 L335.40 428.12 L336.22 428.17 L337.04 428.22 L337.86 428.27 L338.67 428.31 L339.49 428.35 L340.31 428.39 L341.13 428.43 L341.95 428.47 L342.77 428.50 L343.58 428.54 L344.40 428.57 L345.22 428.60 L346.04 428.63 L346.86 428.66 L347.67 428.68 L348.49 428.71 L349.31 428.73 L350.13 428.75 L350.95 428.77 L351.77 428.79 L352.58 428.81 L353.40 428.83 L354.22 428.85 L355.04 428.87 L355.86 428.88 L356.68 428.90 L357.49 428.91 L358.31 428.93 L359.13 428.94 L359.95 428.95 L360.77 428.96 L361.59 428.98 L362.40 428.99 L363.22 429.00 L364.04 429.01 L364.86 429.02 L365.68 429.02 L366.50 429.03 L367.31 429.04 L368.13 429.05 L368.95 429.06 L369.77 429.06 L370.59 429.07 L371.41 429.08 L372.22 429.08 L373.04 429.09 L373.86 429.09 L374.68 429.10 L375.50 429.10 L376.32 429.11 L377.13 429.11 L377.95 429.12 L378.77 429.12 L379.59 429.12 L380.41 429.13 L381.23 429.13 L382.04 429.13 L382.86 429.14 L383.68 429.14 L384.50 429.14 L385.32 429.15 L386.13 429.15 L386.95 429.15 L387.77 429.15 L388.59 429.16 L389.41 429.16 L390.23 429.16 L391.04 429.16 L391.86 429.16 L392.68 429.17 L393.50 429.17 L394.32 429.17 L395.14 429.17 L395.95 429.17 L396.77 429.17 L397.59 429.17 L398.41 429.18 L399.23 429.18 L400.05 429.18 L400.86 429.18 L401.68 429.18 L402.50 429.18 L403.32 429.18 L404.14 429.18 L404.96 429.18 L405.77 429.18 L406.59 429.19 L407.41 429.19 L408.23 429.19 L409.05 429.19 L409.87 429.19 L410.68 429.19 L411.50 429.19 L412.32 429.19 L413.14 429.19 L413.96 429.19 L414.78 429.19 L415.59 429.19 L416.41 429.19 L417.23 429.19 L418.05 429.19 L418.87 429.19 L419.68 429.19 L420.50 429.19 L421.32 429.19 L422.14 429.19 L422.96 429.19 L423.78 429.19 L424.59 429.20 L425.41 429.20 L426.23 429.20 L427.05 429.20 L427.87 429.20 L428.69 429.20 L429.50 429.20 L430.32 429.20 L431.14 429.20 L431.96 429.20 L432.78 429.20 L433.60 429.20 L434.41 429.20 L435.23 429.20 L436.05 429.20 L436.87 429.20 L437.69 429.20 L438.51 429.20 L439.32 429.20 L440.14 429.20 L440.96 429.20 L441.78 429.20 L442.60 429.20 L443.42 429.20 L444.23 429.20 L445.05 429.20 L445.87 429.20 L446.69 429.20 L447.51 429.20 L448.33 429.20 L449.14 429.20 L449.96 429.20 L450.78 429.20 L451.60 429.20 L452.42 429.20 L453.24 429.20 L454.05 429.20 L454.87 429.20 L455.69 429.20 L456.51 429.20 L457.33 429.20 L458.14 429.20 L458.96 429.20 L459.78 429.20 L460.60 429.20 L461.42 429.20 L462.24 429.20 L463.05 429.20 L463.87 429.20 L464.69 429.20 L465.51 429.20 L466.33 429.20 L467.15 429.20 L467.96 429.20 L468.78 429.20 L469.60 429.20 L470.42 429.20 L471.24 429.20 L472.06 429.20 L472.87 429.20 L473.69 429.20 L474.51 429.20 L475.33 429.20 L476.15 429.20 L476.97 429.20 L477.78 429.20 L478.60 429.20 L479.42 429.20 L480.24 429.20 L481.06 429.20 L481.88 429.20 L482.69 429.20 L483.51 429.20 L484.33 429.20 L485.15 429.20 L485.97 429.20 L486.79 429.20 L487.60 429.20 L488.42 429.20 L489.24 429.20 L490.06 429.20 L490.88 429.20 L491.69 429.20 L492.51 429.20 L493.33 429.20 L494.15 429.20 L494.97 429.20 L495.79 429.20 L496.60 429.20 L497.42 429.20 L498.24 429.20 L499.06 429.20 L499.88 429.20 L500.70 429.20 L501.51 429.20 L502.33 429.20 L503.15 429.20 L503.97 429.20 L504.79 429.20 L505.61 429.20 L506.42 429.20 L507.24 429.20 L508.06 429.20 L508.88 429.20 L509.70 429.20 L510.52 429.20 L511.33 429.20 L512.15 429.20 L512.97 429.20 L513.79 429.20 L514.61 429.20 L515.43 429.20 L516.24 429.20 L517.06 429.20 L517.88 429.20 L518.70 429.20 L519.52 429.20 L520.34 429.20 L521.15 429.20 L521.97 429.20 L522.79 429.20 L523.61 429.20 L524.43 429.20 L525.25 429.20 L526.06 429.20 L526.88 429.20 L527.70 429.20" fill="none" stroke="#4A7EBF" stroke-width="4.7" stroke-linecap="butt" stroke-linejoin="round"/>
<g stroke-linecap="round" fill="none">
<line x1="375.5" y1="46" x2="430.5" y2="46" stroke="#BE1A22" stroke-width="4.8"/>
<line x1="375.6" y1="84.3" x2="430.6" y2="84.3" stroke="#EDC3B2" stroke-width="9"/>
<line x1="375.6" y1="121.8" x2="430.5" y2="121.7" stroke="#4A7EBF" stroke-width="4.8"/>
</g>
<text transform="translate(436.30 52.80) scale(1 1.000)" letter-spacing="0.40">413<tspan dy="1.4">_</tspan><tspan dy="-1.4">FA</tspan></text>
<text transform="translate(436.30 90.10) scale(1 1.000)" letter-spacing="0.40">433<tspan dy="1.4">_</tspan><tspan dy="-1.4">FA</tspan></text>
<text transform="translate(436.00 128.00) scale(1 1.000)">S</text>
<text transform="translate(65.50 23.86) scale(1 1.000)" text-anchor="end">1.2</text><text transform="translate(65.50 92.50) scale(1 1.000)" text-anchor="end">1</text><text transform="translate(65.50 161.14) scale(1 1.000)" text-anchor="end">0.8</text><text transform="translate(65.50 229.78) scale(1 1.000)" text-anchor="end">0.6</text><text transform="translate(65.50 298.42) scale(1 1.000)" text-anchor="end">0.4</text><text transform="translate(65.50 367.06) scale(1 1.000)" text-anchor="end">0.2</text><text transform="translate(65.50 435.70) scale(1 1.000)" text-anchor="end">0</text>
<text transform="translate(86.00 464.40) scale(1 1.000)" text-anchor="middle">300</text><text transform="translate(174.00 464.40) scale(1 1.000)" text-anchor="middle">320</text><text transform="translate(262.00 464.40) scale(1 1.000)" text-anchor="middle">340</text><text transform="translate(350.00 464.40) scale(1 1.000)" text-anchor="middle">360</text><text transform="translate(438.00 464.40) scale(1 1.000)" text-anchor="middle">380</text><text transform="translate(526.00 464.40) scale(1 1.000)" text-anchor="middle">400</text>
<text transform="translate(325.30 501.10) scale(1 1.000)" text-anchor="middle">Temperature [K]</text>
<g transform="translate(24.6,220.3) rotate(-90)"><text transform="translate(-20.2 0) scale(1.2 1)">ξ</text><text x="-3.47">[-]</text></g>
</svg>
</body></html>
